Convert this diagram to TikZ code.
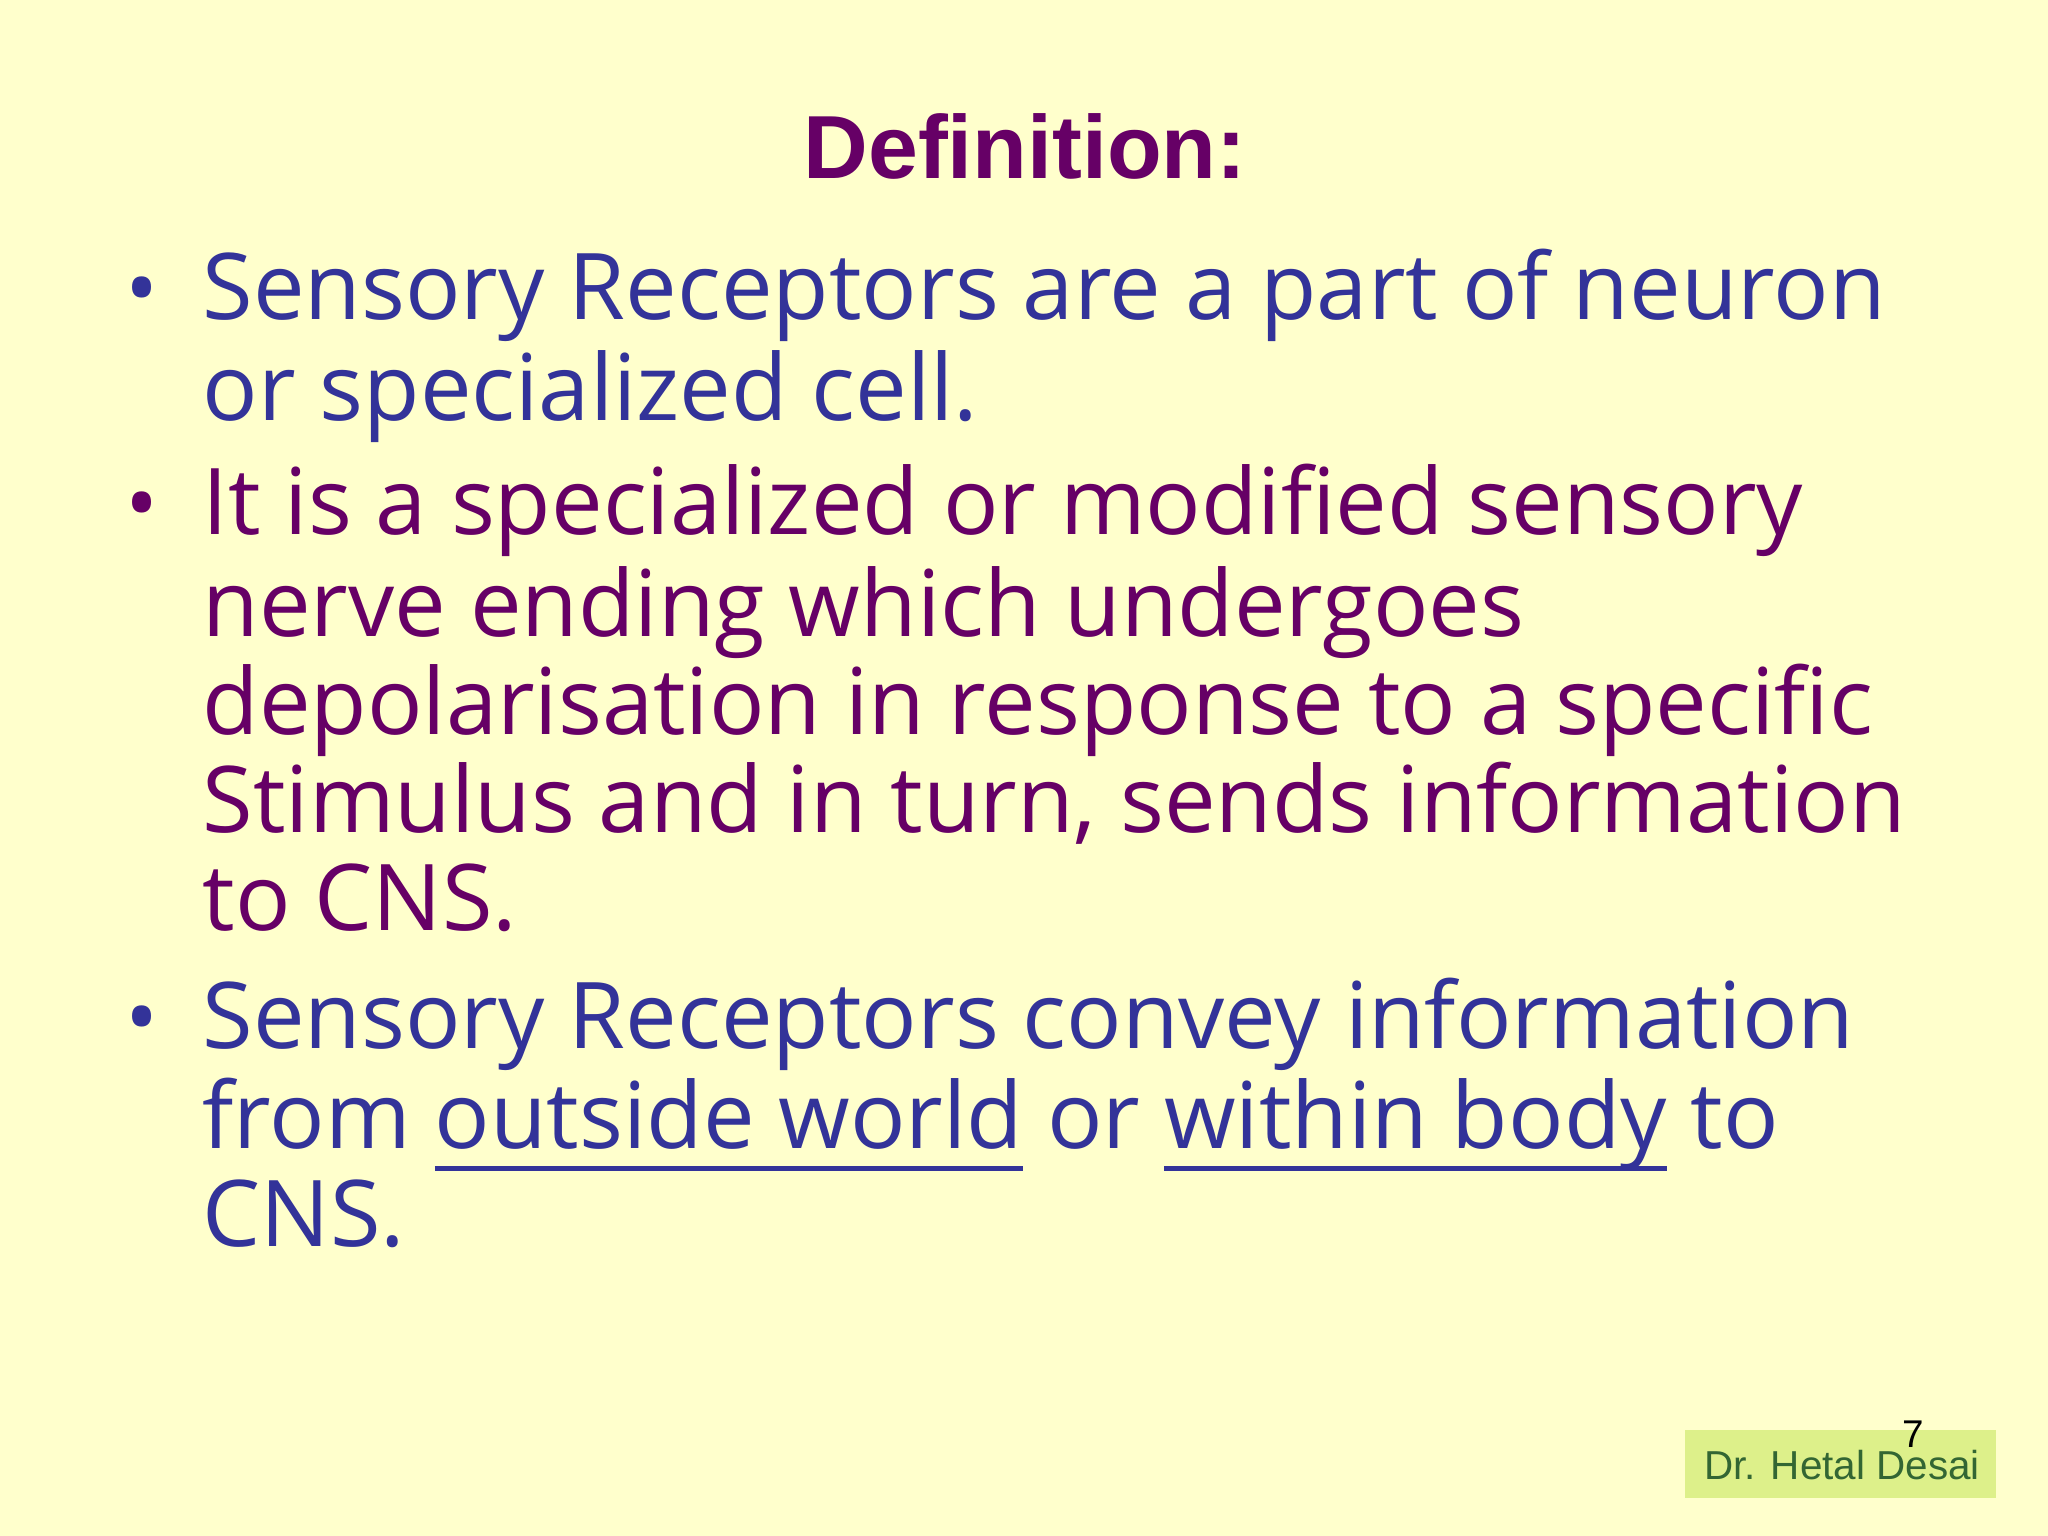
\documentclass[tikz,border=0pt]{standalone}
\usepackage{fontspec}
\setmainfont{Open Sans}
\newfontfamily\titlefont{Liberation Sans}
\definecolor{bg}{HTML}{FFFFCC}
\definecolor{tblue}{HTML}{333399}
\definecolor{tpurp}{HTML}{660066}
\definecolor{foot}{HTML}{DDF08A}
\definecolor{footg}{HTML}{336633}
\newcommand\myul[1]{\setbox0\hbox{#1}\rlap{\rule[-0.24em]{\wd0}{0.06em}}\box0}
\tikzset{ln/.style={anchor=base west,inner sep=0pt,font=\fontsize{26.2}{30}\selectfont},
 bul/.style={anchor=base,inner sep=0pt,font=\fontsize{25}{30}\selectfont}}
\begin{document}
\begin{tikzpicture}[x=1cm,y=1cm]
\fill[bg] (0,0) rectangle (20.48,15.36);
\node[anchor=base,inner sep=0pt,text=tpurp,font=\titlefont\bfseries\fontsize{25.5}{30}\selectfont] (title) at (10.25,13.57) {Definition:};
\node[bul,text=tblue] (b1) at (1.42,12.16) {•};
\node[ln,text=tblue] (l1) at (2.02,12.16) {Sensory Receptors are a part of neuron};
\node[ln,text=tblue] (l2) at (2.02,11.155) {or specialized cell.};
\node[bul,text=tpurp] (b2) at (1.42,10.01) {•};
\node[ln,text=tpurp] (l3) at (2.02,10.01) {It is a specialized or modified sensory};
\node[ln,text=tpurp] (l4) at (2.02,8.99) {nerve ending which undergoes};
\node[ln,text=tpurp] (l5) at (2.02,8.01) {depolarisation in response to a specific};
\node[ln,text=tpurp] (l6) at (2.02,7.03) {Stimulus and in turn, sends information};
\node[ln,text=tpurp] (l7) at (2.02,6.05) {to CNS.};
\node[bul,text=tblue] (b3) at (1.42,4.87) {•};
\node[ln,text=tblue] (l8) at (2.02,4.87) {Sensory Receptors convey information};
\node[ln,text=tblue] (l9) at (2.02,3.87) {from \myul{outside world}\ or \myul{within body}\ to};
\node[ln,text=tblue] (l10) at (2.02,2.89) {CNS.};
\fill[foot] (16.85,0.38) rectangle (19.96,1.06);
\node[anchor=base,inner sep=0pt,text=footg,font=\titlefont\fontsize{11.5}{14}\selectfont] (ft) at (18.42,0.56) {Dr. Hetal Desai};
\node[anchor=base,inner sep=0pt,font=\titlefont\fontsize{11}{13}\selectfont] (pg) at (19.13,0.88) {7};
\end{tikzpicture}
\end{document}
